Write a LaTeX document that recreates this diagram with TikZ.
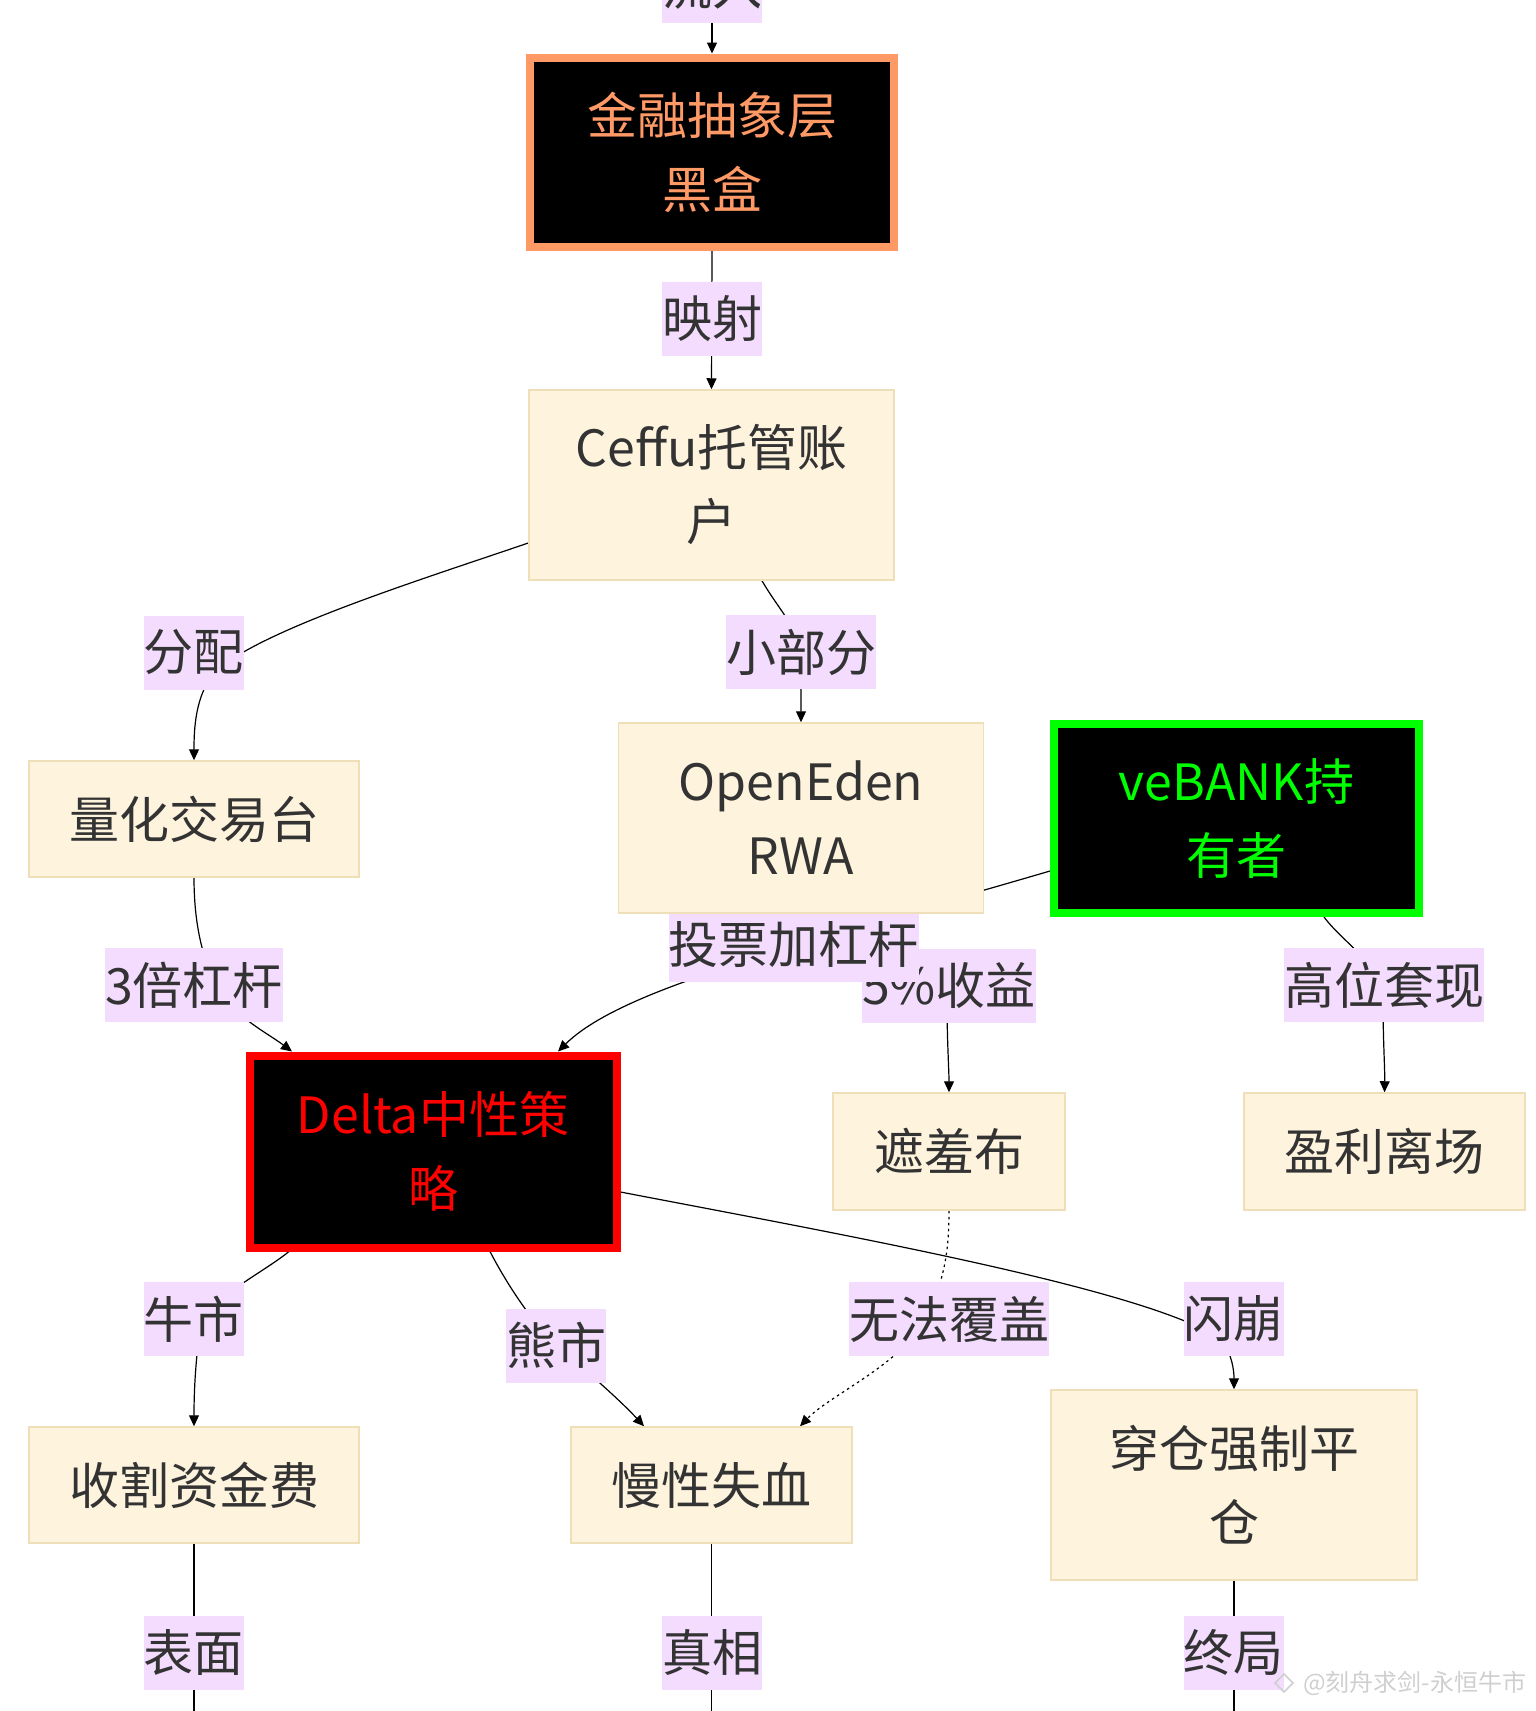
\documentclass[tikz,border=0pt]{standalone}
\usepackage{fontspec}
\setmainfont{Noto Sans CJK SC}
\usetikzlibrary{arrows.meta,calc}
\definecolor{nodefill}{HTML}{FEF3DD}
\definecolor{nodeline}{HTML}{EEDFB8}
\definecolor{lblfill}{HTML}{F3DCFE}
\definecolor{txt}{HTML}{333333}
\definecolor{orng}{HTML}{FF9966}
\definecolor{lime}{HTML}{00FF00}
\definecolor{wmark}{HTML}{CFCFCF}
\pgfdeclarelayer{bg}
\pgfsetlayers{bg,main}
\begin{document}
\begin{tikzpicture}[x=1pt,y=-1pt,
  box/.style={draw=nodeline, fill=nodefill, line width=1.5pt, text=txt, align=center, inner sep=0pt, font=\fontsize{50pt}{74pt}\selectfont},
  darkbox/.style={fill=black, line width=8pt, align=center, inner sep=0pt, font=\fontsize{50pt}{74pt}\selectfont},
  lbl/.style={fill=lblfill, text=txt, inner xsep=0pt, inner ysep=0pt, minimum height=74pt, font=\fontsize{50pt}{60pt}\selectfont},
  conn/.style={line width=1.2pt, draw=black},
  arr/.style={conn, -{Triangle[length=11pt,width=10pt]}},
  dotconn/.style={dash pattern=on 2.5pt off 3.5pt},
]
\useasboundingbox (0,0) rectangle (1536,1711);

% edge labels (drawn below nodes)
\node[lbl] (liuru) at (712,-14) {流入};
\node[lbl] (yingshe) at (712,318.5) {映射};
\node[lbl] (fenpei) at (193.5,652.5) {分配};
\node[lbl] (xiaobufen) at (801,652) {小部分};
\node[lbl] (sanbei) at (194,985) {3倍杠杆};
\node[lbl] (wufen) at (949,985.5) {5\%收益};
\node[lbl] (toupiao) at (793.5,945) {投票加杠杆};
\node[lbl] (gaowei) at (1384,985) {高位套现};
\node[lbl] (niushi) at (193.5,1319) {牛市};
\node[lbl] (xiongshi) at (556,1345.5) {熊市};
\node[lbl] (wufa) at (949,1319) {无法覆盖};
\node[lbl] (shanbeng) at (1233.5,1319) {闪崩};
\node[lbl] (biaomian) at (193.5,1652.6) {表面};
\node[lbl] (zhenxiang) at (712,1652.6) {真相};
\node[lbl] (zhongju) at (1233.5,1652.6) {终局};

% nodes
\node[darkbox, draw=orng, text=orng, minimum width=364pt, minimum height=189pt] (jinrong) at (712,152) {金融抽象层\\黑盒};
\node[box, minimum width=365pt, minimum height=190pt] (ceffu) at (711.5,485) {Ceffu托管账\\户};
\node[box, minimum width=330pt, minimum height=116pt] (liang) at (194,819) {量化交易台};
\node[box, minimum width=365pt, minimum height=190pt] (openeden) at (801,818) {OpenEden\\RWA};
\node[darkbox, draw=lime, text=lime, minimum width=365pt, minimum height=189pt] (vebank) at (1236.5,818.5) {veBANK持\\有者};
\node[darkbox, draw=red, text=red, minimum width=367pt, minimum height=192pt] (delta) at (433,1151.5) {Delta中性策\\略};
\node[box, minimum width=232pt, minimum height=117pt] (zhexiu) at (949,1151.5) {遮羞布};
\node[box, minimum width=281pt, minimum height=117pt] (yingli) at (1384.5,1151.5) {盈利离场};
\node[box, minimum width=330pt, minimum height=116pt] (shouge) at (194,1485) {收割资金费};
\node[box, minimum width=281pt, minimum height=116pt] (manxing) at (711.5,1485) {慢性失血};
\node[box, minimum width=366pt, minimum height=190pt] (chuancang) at (1234,1485) {穿仓强制平\\仓};

\coordinate (end1) at (194,1725);
\coordinate (end2) at (711.5,1725);
\coordinate (end3) at (1234,1725);

% watermark
\node[text=wmark, anchor=west, inner sep=0pt, font=\fontsize{24pt}{24pt}\selectfont] (wm) at (1303,1683) {@刻舟求剑-永恒牛市};
\draw[wmark, line width=1.5pt] (1284,1674) -- (1293,1683) -- (1284,1692) -- (1275,1683) -- cycle;

% connectors
\begin{pgfonlayer}{bg}
\draw[arr] (liuru) -- (jinrong.north);
\draw[arr] (jinrong.south) -- (ceffu.north);
\draw[arr] ($(ceffu.west)+(0,58)$) .. controls (420,580) and (260,630) .. (215,672) .. controls (195,695) and (194,730) .. (liang.north);
\draw[arr] ($(ceffu.south)+(50.5,0)$) .. controls (780,612) and (801,630) .. (801,660) -- (openeden.north);
\draw[arr] (liang.south) .. controls (194,930) and (205,975) .. (230,1005) .. controls (250,1025) and (270,1035) .. ($(delta.north)+(-141,0)$);
\draw[arr] ($(vebank.west)+(0,52.5)$) .. controls (900,915) and (820,935) .. (793,947) .. controls (680,980) and (600,1010) .. ($(delta.north)+(125,0)$);
\draw[arr] ($(openeden.south)+(59,0)$) .. controls (890,940) and (947,960) .. (947,1000) .. controls (947,1040) and (949,1070) .. (zhexiu.north);
\draw[arr] ($(vebank.south)+(87.5,0)$) .. controls (1345,945) and (1383,965) .. (1383,1000) .. controls (1383,1040) and (1385,1070) .. (yingli.north);
\draw[arr] ($(delta.south)+(-144,0)$) .. controls (260,1275) and (205,1300) .. (200,1330) .. controls (195,1365) and (194,1395) .. (shouge.north);
\draw[arr] ($(delta.south)+(57,0)$) .. controls (510,1290) and (535,1325) .. (556,1345) .. controls (580,1365) and (620,1400) .. ($(manxing.north)+(-67.5,0)$);
\draw[arr, dotconn] (zhexiu.south) .. controls (949,1250) and (945,1280) .. (925,1320) .. controls (900,1365) and (830,1395) .. ($(manxing.north)+(88.5,0)$);
\draw[arr] ($(delta.east)+(0,40.5)$) .. controls (850,1236) and (1150,1290) .. (1222,1340) .. controls (1232,1355) and (1234,1370) .. (chuancang.north);
\draw[conn] (shouge.south) -- (end1);
\draw[conn] (manxing.south) -- (end2);
\draw[conn] (chuancang.south) -- (end3);
\end{pgfonlayer}
\end{tikzpicture}
\end{document}
